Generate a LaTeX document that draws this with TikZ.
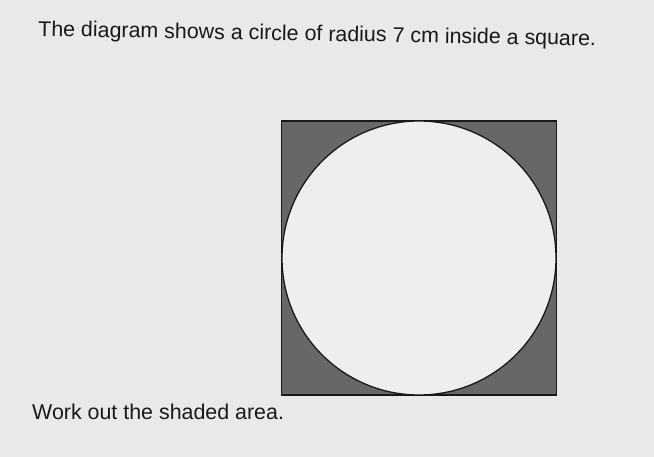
\documentclass[tikz,border=0pt]{standalone}
\usepackage{fontspec}
\setmainfont{Liberation Sans}
\definecolor{paper}{HTML}{E9E9E9}
\definecolor{inner}{HTML}{EEEEEE}
\definecolor{shade}{HTML}{676767}
\begin{document}
\begin{tikzpicture}[x=1pt, y=-1pt]
		% Define the styles for the text and the figure
		\tikzset{question/.style={anchor=base west, inner sep=0pt, font=\fontsize{21.4}{24}\selectfont, text=black!90}}
		\tikzset{outline/.style={draw=black!90, line width=1.3pt, inner sep=0pt, minimum size=274pt}}
		
		% Page background
		\fill[paper] (0,0) rectangle (654,457);
		\useasboundingbox (0,0) rectangle (654,457);
		
		% Question texts
		\node (title) [question, rotate=-1] at (38,36) {The diagram shows a circle of radius 7 cm inside a square.};
		\node (task) [question] at (32,420) {Work out the shaded area.};
		
		% Square with the shaded corners and the circle inside
		\node (sq) at (419,258) [outline, rectangle, fill=shade, minimum width=275pt] {};
		\node (circ) at (sq.center) [outline, circle, fill=inner] {};
\end{tikzpicture}
\end{document}
